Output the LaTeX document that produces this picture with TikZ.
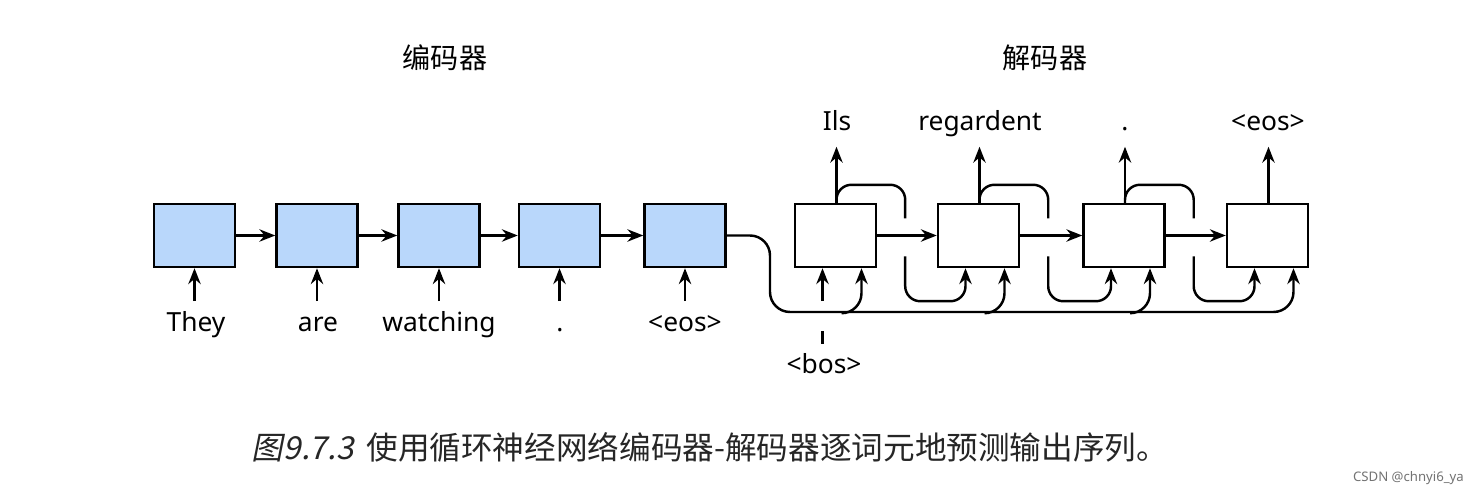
\documentclass[tikz,border=0pt]{standalone}
\usepackage{fontspec}
\setmainfont{Noto Sans}
\newfontfamily\cjk{Noto Sans CJK SC}
\newfontfamily\cjkit{Noto Sans CJK SC}[FakeSlant=0.2]
\usetikzlibrary{arrows.meta}
\usetikzlibrary{calc}
\definecolor{cellblue}{HTML}{B9D7FB}
\tikzset{
  cell/.style={draw, line width=1.4pt, minimum width=1.62cm, minimum height=1.26cm, inner sep=0pt},
  arr/.style={line width=1.4pt, -{Stealth[length=9pt,width=7pt]}},
  ln/.style={line width=1.4pt},
  word/.style={font=\fontsize{15}{18}\selectfont, inner sep=1pt, anchor=base}
}
\begin{document}
\begin{tikzpicture}[x=0.02cm,y=-0.02cm]
            \useasboundingbox[fill=white] (0,0) rectangle (1482,496);
            % encoder
            \node[cell, fill=cellblue] (e1) at (194.5,235.5) {};
            \node[cell, fill=cellblue] (e2) at (317,235.5) {};
            \node[cell, fill=cellblue] (e3) at (439,235.5) {};
            \node[cell, fill=cellblue] (e4) at (559.5,235.5) {};
            \node[cell, fill=cellblue] (e5) at (685,235.5) {};
            \node[word] (w1) at (196,332) {They};
            \node[word] (w2) at (318,332) {are};
            \node[word] (w3) at (439,332) {watching};
            \node[word] (w4) at (560,332) {.};
            \node[word] (w5) at (685,332) {<eos>};
            \foreach \i/\j in {1/2,2/3,3/4,4/5} {
                \draw[arr] (e\i.east) -- (e\j.west);
            }
            \foreach \i in {1,...,5} {
                \draw[arr] ($(e\i.south)+(0,33)$) -- (e\i.south);
            }
            % decoder
            \node[cell] (d1) at (835.5,235.5) {};
            \node[cell] (d2) at (978.5,235.5) {};
            \node[cell] (d3) at (1124,235.5) {};
            \node[cell] (d4) at (1267.5,235.5) {};
            \node[word] (o1) at (837,131) {Ils};
            \node[word] (o2) at (980,131) {regardent};
            \node[word] (o3) at (1125,131) {.};
            \node[word] (o4) at (1268,131) {<eos>};
            \foreach \i/\j in {1/2,2/3,3/4} {
                \draw[arr] (d\i.east) -- (d\j.west);
            }
            \foreach \i in {1,...,4} {
                \draw[arr] ($(d\i.north)+(1,0)$) -- ($(d\i.north)+(1,-56)$);
            }
            % feedback hooks
            \foreach \i/\j in {1/2,2/3,3/4} {
                \draw[ln, rounded corners=0.3cm] ($(d\i.north)+(1,0)$) |- ($(d\i.north east)+(28,-18)$) -- ($(d\i.east)+(28,-17)$);
                \draw[arr, rounded corners=0.3cm] ($(d\i.east)+(28,21)$) |- ($(d\j.south)+(-13,33)$) -- ($(d\j.south)+(-13,0)$);
            }
            % bos
            \coordinate (b1) at ($(d1.south)+(-13,33)$);
            \draw[arr] (b1) -- ($(d1.south)+(-13,0)$);
            \draw[ln] ($(d1.south)+(-13,63)$) -- ($(d1.south)+(-13,76)$);
            \node[word] (bos) at (824,374) {<bos>};
            % context
            \coordinate (c0) at (770,312);
            \draw[arr, rounded corners=0.4cm] (e5.east) -| (c0) -| ($(d4.south)+(26,0)$);
            \foreach \i in {1,2,3} {
                \draw[arr, rounded corners=0.4cm] ($(d\i.south)+(6,45)$) -| ($(d\i.south)+(26,0)$);
            }
            % titles
            \node[font=\cjk\fontsize{16}{19}\selectfont] (t1) at (445,58) {编码器};
            \node[font=\cjk\fontsize{16}{19}\selectfont] (t2) at (1045,58) {解码器};
            \node[font=\fontsize{18}{22}\selectfont, text=black!85] (cap) at (710,447) {{\cjkit 图9.7.3}\hspace{0.4em}{\cjk 使用循环神经网络编码器-解码器逐词元地预测输出序列。}};
            \node[font=\fontsize{7.5}{9}\selectfont, text=black!55, anchor=east] (wm) at (1470,478) {CSDN @chnyi6\_ya};
        \end{tikzpicture}
\end{document}
